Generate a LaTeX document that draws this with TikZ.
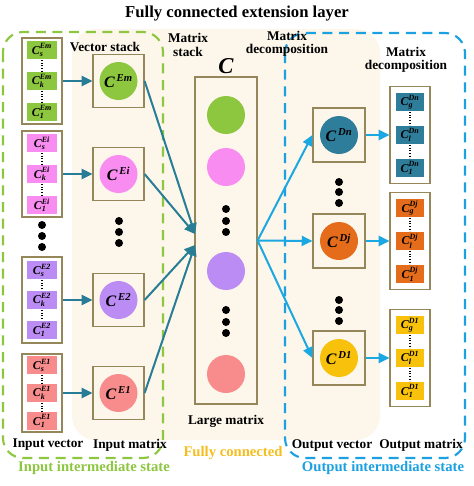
\documentclass[tikz,border=0pt]{standalone}
\usepackage{fontspec}
\setmainfont{Liberation Serif}
\usepackage{amsmath}
\usetikzlibrary{arrows.meta}

\definecolor{cgreen}{RGB}{141,198,63}
\definecolor{cpink}{RGB}{249,140,240}
\definecolor{cpurple}{RGB}{188,140,245}
\definecolor{cred}{RGB}{248,140,140}
\definecolor{cteal}{RGB}{46,125,155}
\definecolor{corange}{RGB}{228,108,26}
\definecolor{cyellow}{RGB}{248,194,12}
\definecolor{cframe}{RGB}{150,135,90}
\definecolor{cbeige}{RGB}{253,246,234}
\definecolor{carrowA}{RGB}{40,125,150}
\definecolor{carrowB}{RGB}{27,168,226}
\definecolor{cblue}{RGB}{27,161,226}
\definecolor{cgold}{RGB}{245,190,30}

\newcommand{\bi}[1]{\text{\bfseries\itshape #1}}

\tikzset{every picture/.style={line width=0.75pt}}

\begin{document}
\begin{tikzpicture}[x=0.75pt,y=0.75pt,yscale=-1,xscale=1,
  frame/.style={draw=cframe, line width=0.9pt, inner sep=0pt},
  cell/.style={inner sep=0pt, minimum width=22.5pt, minimum height=14pt, font=\fontsize{9}{9}\selectfont},
  ball/.style={circle, inner sep=0pt, minimum size=28.5pt, font=\fontsize{12}{12}\selectfont},
  blob/.style={circle, fill=black, inner sep=0pt, minimum size=6pt},
  lab/.style={font=\bfseries\fontsize{10}{11}\selectfont, align=center, inner sep=0.75pt},
  state/.style={font=\bfseries\fontsize{11}{12}\selectfont, inner sep=0.75pt},
  vdots/.style={line width=1pt, dash pattern=on 0.9pt off 1.1pt},
  arrin/.style={draw=carrowA, line width=1.5pt, -{Triangle[length=8pt,width=7.5pt]}},
  arrout/.style={draw=carrowB, line width=1.5pt, -{Triangle[length=8pt,width=7.5pt]}},
  region/.style={line width=1.6pt, dash pattern=on 7.5pt off 5pt, rounded corners=15pt}
]
\useasboundingbox (0,0) rectangle (474,486);

%Background of the fully connected part
\fill[cbeige, rounded corners=18pt] (72,29) rectangle (380,440);
%Dashed regions
\draw[region, draw=cgreen] (3,32) rectangle (163,458);
\draw[region, draw=cblue] (285,33) rectangle (465,458);

%Input vectors and input matrices
\foreach \nm/\yy/\gap/\hh/\col in {Em/81/31/86/cgreen, Ei/174/31/86/cpink, E2/300/30/86/cpurple, E1/393/28/78/cred}{
  \node[frame, minimum width=30pt, minimum height=\hh*0.75pt] (vec\nm) at (42,\yy) {};
  \node[cell, fill=\col] (vec\nm s) at (42,{\yy-\gap}) {$\bi{C}^{\bi{\nm}}_{\bi{s}}$};
  \node[cell, fill=\col] (vec\nm k) at (42,\yy) {$\bi{C}^{\bi{\nm}}_{\bi{k}}$};
  \node[cell, fill=\col] (vec\nm o) at (42,{\yy+\gap}) {$\bi{C}^{\bi{\nm}}_{\bi{1}}$};
  \draw[vdots] (vec\nm s.south) -- (vec\nm k.north);
  \draw[vdots] (vec\nm k.south) -- (vec\nm o.north);
  \node[frame, minimum width=38.25pt, minimum height=39.75pt] (mat\nm) at (118.5,\yy) {};
  \node[ball, fill=\col] (ball\nm) at (mat\nm) {$\bi{C}^{\,\bi{\nm}}$};
  \draw[arrin] (vec\nm.east |- mat\nm) -- (mat\nm.west);
}
\foreach \yy in {225,236,247}{
  \node[blob] (vdot\yy) at (42,\yy) {};
  \node[blob] (mdot\yy) at (119,{\yy-4}) {};
}

%Large matrix
\node[frame, minimum width=46.5pt, minimum height=245.25pt] (bigmat) at (226,240.5) {};
\node[ball, fill=cgreen] (bigEm) at (226,115) {};
\node[ball, fill=cpink] (bigEi) at (226,167) {};
\node[ball, fill=cpurple] (bigE2) at (226,271) {};
\node[ball, fill=cred] (bigE1) at (226,374) {};
\foreach \yy in {209,221,232}{
  \node[blob] (bdot\yy) at (226,\yy) {};
  \node[blob] (cdot\yy) at (226,{\yy+101}) {};
}
\coordinate (inA) at (195,234);
\coordinate (inB) at (195,245);
\draw[arrin] (matEm.east) -- (inA);
\draw[arrin] (matEi.east) -- (inA);
\draw[arrin] (matE2.east) -- (inB);
\draw[arrin] (matE1.east) -- (inB);

%Output vectors and output matrices
\foreach \nm/\yy/\col in {Dn/135/cteal, Dj/241/corange, D1/358/cyellow}{
  \node[frame, minimum width=39pt, minimum height=40.5pt] (ovec\nm) at (339,\yy) {};
  \node[ball, fill=\col] (oball\nm) at (ovec\nm) {$\bi{C}^{\,\bi{\nm}}$};
  \draw[arrout] (bigmat.east) -- (ovec\nm.west);
  \node[frame, minimum width=30pt, minimum height=73pt] (omat\nm) at (410,\yy) {};
  \node[cell, fill=\col, minimum width=21pt] (omat\nm g) at (410,{\yy-33}) {$\bi{C}^{\bi{\nm}}_{\bi{g}}$};
  \node[cell, fill=\col, minimum width=21pt] (omat\nm l) at (410,\yy) {$\bi{C}^{\bi{\nm}}_{\bi{l}}$};
  \node[cell, fill=\col, minimum width=21pt] (omat\nm o) at (410,{\yy+33}) {$\bi{C}^{\bi{\nm}}_{\bi{1}}$};
  \draw[vdots] (omat\nm g.south) -- (omat\nm l.north);
  \draw[vdots] (omat\nm l.south) -- (omat\nm o.north);
  \draw[arrout] (ovec\nm.east) -- (omat\nm.west);
}
\foreach \yy in {182,192,203}{
  \node[blob] (odot\yy) at (339,\yy) {};
  \node[blob] (pdot\yy) at (339,{\yy+118}) {};
}

% Text Node
\node[font=\bfseries\fontsize{12.5}{14}\selectfont] (title) at (237,14) {Fully connected extension layer};
% Text Node
\node[lab] (vstack) at (105,47) {Vector stack};
% Text Node
\node[lab] (mstack) at (188,45) {Matrix\\[-1pt]stack};
% Text Node
\node[font=\bfseries\itshape\fontsize{17}{17}\selectfont] (bigC) at (226,66) {C};
% Text Node
\node[lab] (mdecA) at (287,44) {Matrix\\[-1pt]decomposition};
% Text Node
\node[lab] (mdecB) at (406,60) {Matrix\\[-1pt]decomposition};
% Text Node
\node[lab] (ivec) at (48,445) {Input vector};
% Text Node
\node[lab] (imat) at (130,445) {Input matrix};
% Text Node
\node[lab] (lmat) at (226,421) {Large matrix};
% Text Node
\node[lab] (ovec) at (332,445) {Output vector};
% Text Node
\node[lab] (omat) at (421,445) {Output matrix};
% Text Node
\node[state, text=cgreen] (istate) at (94,468) {Input intermediate state};
% Text Node
\node[state, text=cgold] (fc) at (233,453) {Fully connected};
% Text Node
\node[state, text=cblue] (ostate) at (383,468) {Output intermediate state};

\end{tikzpicture}
\end{document}
